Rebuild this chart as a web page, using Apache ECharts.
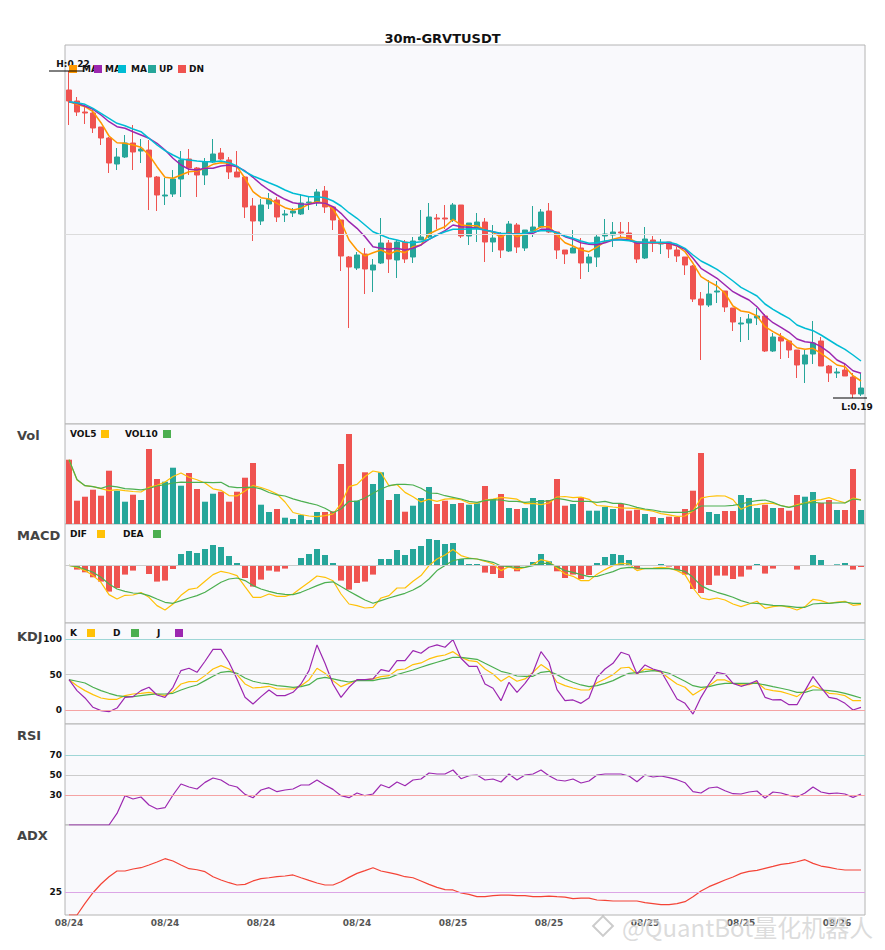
<!DOCTYPE html>
<html>
<head>
<meta charset="utf-8">
<title>30m-GRVTUSDT</title>
<script src="https://cdn.jsdelivr.net/npm/echarts/dist/echarts.min.js"></script>
<style>
  html, body { margin: 0; padding: 0; background: #fff; }
  #main { width: 885px; height: 950px; }
</style>
</head>
<body>
<div id="main"></div>
<script>
// ---- data ----
var opens = [0.2204,0.2193,0.2182,0.2181,0.2167,0.2156,0.2130,0.2137,0.2151,0.2143,
  0.2144,0.2117,0.2098,0.2100,0.2115,0.2135,0.2126,0.2119,0.2132,0.2141,
  0.2134,0.2122,0.2117,0.2088,0.2073,0.2090,0.2094,0.2079,0.2081,0.2080,
  0.2091,0.2092,0.2103,0.2087,0.2074,0.2037,0.2026,0.2040,0.2024,0.2031,
  0.2051,0.2034,0.2052,0.2037,0.2054,0.2057,0.2076,0.2076,0.2074,0.2089,
  0.2058,0.2066,0.2072,0.2052,0.2059,0.2043,0.2069,0.2046,0.2063,0.2067,
  0.2083,0.2062,0.2044,0.2041,0.2046,0.2031,0.2037,0.2058,0.2059,0.2062,
  0.2061,0.2052,0.2036,0.2054,0.2050,0.2052,0.2044,0.2037,0.2028,0.1995,
  0.1989,0.2002,0.2003,0.1986,0.1970,0.1971,0.1976,0.1978,0.1943,0.1957,
  0.1953,0.1944,0.1930,0.1940,0.1953,0.1928,0.1921,0.1924,0.1917,0.1900];
var closes = [0.2193,0.2182,0.2181,0.2166,0.2156,0.2131,0.2137,0.2151,0.2142,0.2145,
  0.2117,0.2099,0.2099,0.2115,0.2134,0.2126,0.2119,0.2132,0.2140,0.2135,
  0.2122,0.2117,0.2087,0.2073,0.2089,0.2095,0.2077,0.2080,0.2083,0.2091,
  0.2092,0.2102,0.2087,0.2074,0.2038,0.2027,0.2039,0.2025,0.2029,0.2051,
  0.2035,0.2052,0.2035,0.2053,0.2057,0.2077,0.2075,0.2075,0.2089,0.2058,
  0.2071,0.2072,0.2052,0.2056,0.2044,0.2070,0.2047,0.2064,0.2067,0.2082,
  0.2062,0.2044,0.2040,0.2046,0.2031,0.2037,0.2057,0.2060,0.2062,0.2061,
  0.2055,0.2035,0.2055,0.2051,0.2051,0.2045,0.2038,0.2029,0.1995,0.1989,
  0.2000,0.2003,0.1987,0.1972,0.1971,0.1975,0.1978,0.1943,0.1957,0.1953,
  0.1944,0.1929,0.1939,0.1951,0.1928,0.1921,0.1922,0.1918,0.1900,0.1906];
var lows = [0.2169,0.2178,0.2170,0.2161,0.2149,0.2121,0.2124,0.2136,0.2124,0.2131,
  0.2084,0.2083,0.2089,0.2097,0.2097,0.2119,0.2097,0.2109,0.2131,0.2134,
  0.2115,0.2117,0.2076,0.2053,0.2069,0.2085,0.2072,0.2072,0.2077,0.2079,
  0.2084,0.2088,0.2081,0.2064,0.2023,0.1966,0.2024,0.2000,0.2002,0.2030,
  0.2021,0.2016,0.2031,0.2031,0.2054,0.2056,0.2065,0.2065,0.2072,0.2056,
  0.2049,0.2052,0.2032,0.2042,0.2036,0.2042,0.2041,0.2043,0.2057,0.2066,
  0.2061,0.2035,0.2030,0.2041,0.2015,0.2022,0.2027,0.2051,0.2047,0.2056,
  0.2055,0.2031,0.2035,0.2042,0.2040,0.2036,0.2032,0.2019,0.1992,0.1934,
  0.1987,0.1991,0.1982,0.1963,0.1952,0.1954,0.1969,0.1942,0.1942,0.1935,
  0.1936,0.1916,0.1911,0.1930,0.1928,0.1912,0.1916,0.1918,0.1896,0.1898];
var highs = [0.2223,0.2197,0.2187,0.2184,0.2167,0.2157,0.2146,0.2159,0.2169,0.2155,
  0.2154,0.2118,0.2116,0.2124,0.2143,0.2145,0.2127,0.2136,0.2155,0.2146,
  0.2137,0.2143,0.2118,0.2096,0.2095,0.2101,0.2097,0.2084,0.2086,0.2100,
  0.2097,0.2105,0.2108,0.2088,0.2074,0.2038,0.2042,0.2046,0.2035,0.2076,
  0.2054,0.2054,0.2054,0.2057,0.2084,0.2091,0.2080,0.2089,0.2091,0.2089,
  0.2071,0.2081,0.2076,0.2069,0.2062,0.2073,0.2071,0.2064,0.2088,0.2085,
  0.2091,0.2062,0.2044,0.2064,0.2056,0.2040,0.2059,0.2075,0.2072,0.2072,
  0.2072,0.2053,0.2067,0.2058,0.2055,0.2052,0.2047,0.2037,0.2029,0.2002,
  0.2014,0.2013,0.2003,0.1986,0.1977,0.1980,0.1986,0.1980,0.1961,0.1961,
  0.1953,0.1944,0.1944,0.1973,0.1957,0.1929,0.1926,0.1930,0.1921,0.1921];

var ma5 = [0.21923,0.21897,0.21873,0.21823,0.21713,0.2158,0.21513,0.21507,0.2149,0.21467,
  0.2139,0.21273,0.21167,0.21157,0.2119,0.21223,0.2123,0.21257,0.21297,0.21313,
  0.21307,0.21273,0.21157,0.21023,0.20963,0.2095,0.20907,0.20863,0.2084,0.20857,
  0.209,0.20923,0.20907,0.2085,0.20723,0.2054,0.2044,0.2038,0.20413,0.2044,
  0.204,0.20433,0.20413,0.20473,0.2049,0.206,0.2064,0.20673,0.20747,0.2069,
  0.20683,0.20683,0.2064,0.20617,0.20567,0.20617,0.20573,0.206,0.20623,0.20673,
  0.20673,0.2059,0.20513,0.2048,0.2044,0.20423,0.20468,0.20523,0.20547,0.20567,
  0.20557,0.20517,0.20513,0.20513,0.20507,0.20507,0.2048,0.20423,0.20307,0.20173,
  0.20123,0.2008,0.20007,0.1988,0.1983,0.19817,0.1978,0.19673,0.19623,0.1958,
  0.1953,0.19463,0.19447,0.19457,0.19407,0.1935,0.1929,0.19273,0.19183,0.1913];
var ma10 = [0.21923,0.21907,0.2188,0.21847,0.2179,0.21723,0.21673,0.21657,0.21623,0.2159,
  0.21557,0.21507,0.2144,0.21357,0.2129,0.21247,0.2124,0.21257,0.21257,0.2128,
  0.2129,0.21273,0.2123,0.21167,0.21097,0.2104,0.2099,0.20947,0.20913,0.209,
  0.20897,0.20913,0.20907,0.20873,0.20807,0.20723,0.20657,0.20573,0.20473,0.20457,
  0.20447,0.20457,0.2044,0.20457,0.2049,0.20547,0.2059,0.20633,0.2069,0.20673,
  0.20667,0.20657,0.2064,0.20623,0.206,0.20607,0.20597,0.206,0.20607,0.20647,
  0.20647,0.20613,0.20573,0.20547,0.20513,0.20497,0.20493,0.20513,0.2054,0.20547,
  0.2054,0.20507,0.20513,0.20513,0.20513,0.20507,0.20483,0.20447,0.20357,0.20257,
  0.20207,0.20157,0.2009,0.20023,0.1998,0.1994,0.19873,0.1978,0.19713,0.19667,
  0.19617,0.1955,0.19523,0.19513,0.19473,0.19417,0.1934,0.193,0.19233,0.19207];
var ma20 = [0.21923,0.21913,0.21897,0.21857,0.21807,0.21757,0.21707,0.21683,0.2165,0.21623,
  0.21557,0.2149,0.21433,0.2139,0.2135,0.2134,0.2133,0.21323,0.21323,0.2133,
  0.21313,0.2128,0.21223,0.2118,0.21147,0.21113,0.2108,0.2104,0.21007,0.2099,
  0.20973,0.20973,0.20963,0.2093,0.2088,0.20813,0.20757,0.2069,0.20623,0.2059,
  0.20557,0.2054,0.20517,0.20513,0.20523,0.20547,0.2059,0.20623,0.20647,0.20647,
  0.2065,0.20653,0.2064,0.20623,0.20607,0.206,0.206,0.20607,0.20623,0.20633,
  0.20633,0.20613,0.2058,0.20557,0.2053,0.20507,0.20512,0.2053,0.2054,0.2054,
  0.20533,0.20523,0.20517,0.20517,0.20517,0.20517,0.20497,0.20457,0.2039,0.2033,
  0.2029,0.20247,0.2019,0.2013,0.20067,0.20023,0.1998,0.199,0.19847,0.198,
  0.19757,0.1969,0.19657,0.19633,0.1959,0.1954,0.1949,0.19447,0.1939,0.1933];

// volume in thousands
var volumes = [64.3,23.3,27.3,34.3,28.3,53.3,33.3,22.3,29.3,24,
  75,45,42.3,56.3,38.3,51,35,22.3,30.3,32.3,
  22.3,32.3,46.3,61,19.3,12,15,6.3,5,9,
  4,12,12,12.7,60,90,23.3,51.7,40,51.7,
  24,30,12.3,18.3,26,37,20,23.3,20,21,
  19.3,20.7,38,25,30,16,15,16,26,24,
  24,45,18.3,20,26.7,13.3,13.3,17,15,20,
  13.3,14.3,10,7,6,7.3,7,15,33.3,71,
  12,10,13,13,29,26,16,19.3,16,16,
  13.3,29,27.3,32,21,24,14,14,55,14];
var vol5 = [64.3,44,38.3,37.3,35.3,33.3,34.3,33.3,32.5,32,
  36.7,38.7,42,47.5,51,46.7,44.3,41,35.2,33.7,
  28.4,28.1,33,38.5,36.5,33.8,30,22,11.5,9.5,
  8,7.3,8.4,10,20.1,37.3,39.6,47.5,53,51.3,
  38.1,39.5,31.6,27.3,22.1,24.7,22.7,24.9,25.3,24.3,
  20.7,20.9,23.8,24.8,26.6,25.9,24.8,20.4,20.6,19.4,
  21,27,27.5,26.3,26.8,24.7,18.5,17.9,17,16.2,
  15.8,15.4,14.2,12.8,10.4,9.1,7.7,8,13,25.8,
  27.5,28.2,28,24.4,14.7,18.3,19.4,20.7,20.6,18.5,
  16.7,19.3,21,23.4,24.3,26.4,23.5,21.2,25.8,24.1];
var vol10 = [64.3,44.5,38.3,37.3,35.6,38.2,37.2,35.4,34.9,34.1,
  35.5,38,39.3,41,41.8,41.7,41.6,41.6,41.3,41.7,
  37.4,36.4,36.6,36.9,35.1,31.5,29.2,28,25.1,22.8,
  20.8,19,15.8,11.2,15,22.7,22.7,26,30.7,35,
  38.3,39.7,39.7,39,35.7,31,30.7,28.3,26.7,25,
  22.7,21.7,23.3,24.3,24,22.7,22.7,21.7,22.3,22.3,
  23.3,25.7,24.3,22.7,22.7,22.7,21.7,22.7,20.7,20.7,
  19,16.7,15,14,12.3,11.7,11.7,11.7,13.3,18,
  18,18,18,18.7,20,22,23.3,24,21.7,18.3,
  16.7,18.3,20.7,21.7,21,21,21,21,25,24];

// MACD in units of 1e-5
var macdHist = [0,-4.3,-7,-12,-16.3,-26.3,-22.7,-9.3,-5.3,-0.7,
  -8.7,-16.3,-15.3,-3.7,11.3,14.3,12.3,16.3,20.3,18.3,
  9.3,2.3,-12.7,-21.3,-14.3,-5.3,-6.3,-3.3,0,7.3,
  11.3,16.3,10.3,2.3,-15.3,-24.3,-17.7,-16.3,-9.3,6.3,
  6.3,15.3,10.3,16.3,19.3,26.3,25.3,21.3,22.3,6.3,
  1.3,1.3,-7.3,-8.7,-12.7,-2,-6,-0.7,3.3,11.3,
  4,-6,-12.7,-9.3,-13.7,-9.7,2.3,8.3,11.3,10.3,
  5.3,-4,0,0,1.3,-1.3,-4.7,-9.3,-23.7,-27.7,
  -19.7,-10.3,-10.3,-13.7,-11.3,-4.3,1.3,-8.3,-3.3,-0.7,
  -0.7,-4.3,0,10.3,5.3,0,1,2.3,-4.3,-1.7];
var difs = [0,-2,-5.3,-10.3,-17,-29.3,-33.7,-30,-29.7,-27.3,
  -32,-40.3,-44.7,-38.7,-30,-24,-22.7,-16,-9.3,-6,
  -7.7,-10.3,-21.3,-32,-32,-28.7,-31,-31,-28.7,-22.7,
  -17,-10.7,-12,-15.5,-28.7,-38.7,-40.3,-42.7,-42,-32.7,
  -30.3,-22.7,-22.7,-16,-10.3,-0.3,6.3,10.3,15.7,9.7,
  7.3,6.3,4,1.3,-5.3,-1.3,-4.3,-2,0.7,5.7,
  3.7,-2.7,-8.7,-11,-15.3,-15.3,-9,-4.3,-0.3,2,
  1.3,-5.3,-3,-2.7,-2,-2.7,-5.3,-9.3,-22.7,-32.7,
  -34.3,-32.7,-34.7,-38.7,-41.3,-38.7,-36,-43,-41.3,-40.3,
  -42,-44.7,-41.3,-34,-35.3,-38,-36.7,-36,-40,-39];
var deas = [0,-1.3,-4,-7,-12,-18.7,-23.7,-26,-27.7,-28,
  -30.3,-33.7,-37,-38,-35.3,-32.7,-30.3,-27,-22,-17,
  -13.7,-12.7,-15.3,-20.3,-23.7,-26,-28,-29,-29.3,-27,
  -23.7,-20.3,-17.3,-16.5,-21.3,-26,-30.3,-34.7,-38,-35.3,
  -32.7,-30.3,-28,-24.7,-20.3,-13.7,-5.3,-0.3,4.7,6.3,
  7,6.3,4.7,3,-0.7,-1.3,-2,-2,-0.3,2,
  2,-1.3,-5.3,-7,-9.3,-11.3,-11,-8.7,-6.3,-3,
  -2,-2.7,-3.3,-3.3,-3.3,-3.3,-4.3,-6,-12,-20.3,
  -24.3,-27,-29.3,-32,-35.3,-37.7,-38,-39,-40,-40.3,
  -41,-42,-42,-38.7,-38,-38,-37.3,-36.7,-38,-38];

var kLine = [42.9,34.4,27.4,21.7,17,15.1,15.1,20.3,22.6,23.6,
  25,22.6,20.3,25.9,36.8,40.1,40.6,48.6,58,62.7,
  58,50,36.8,31.1,32.1,33.5,29.7,29.7,29.7,34.4,
  42.5,59,51.9,41.5,33,37.7,42.5,42.5,43.9,47.2,
  48.6,56.6,58,64.2,66.5,72.2,75.9,77.8,82.5,74.5,
  69.8,68.4,58,50.9,40.6,47.6,40.6,43.9,53.3,64.2,
  56.6,39.2,34.4,31.1,28.3,28.3,38.5,43.9,50,59.4,
  60.4,50.9,58,56.6,53.3,44.8,36.8,32.1,21.2,28.3,
  34.4,42.5,42.5,37.7,35.4,35.8,39.2,29.7,27.4,25.9,
  22.6,18.9,27.4,34.4,29.7,23.6,22.6,20.3,13.2,13.2];
var dLine = [42.9,40.6,38.2,32.1,27.4,23.6,20.3,18.9,18.9,20.3,
  21.7,22.6,22.6,23.6,28.3,32.1,35.4,41.5,47.6,53.3,
  54.7,51.9,45.3,40.6,38.2,36.8,34.4,33.5,32.1,33,
  35.8,43.9,46.2,43.9,41.5,39.6,41.5,41.5,41.5,43.9,
  45.3,50,53.3,56.6,60.4,64.2,67.5,70.8,74.5,74.5,
  73.1,71.7,66,60.4,54.7,51.9,48.1,47.6,47.6,53.3,
  54.7,50,43.9,39.2,35.4,33,34.4,37.7,41.5,47.2,
  51.9,52.8,54.2,55.7,54.7,51.9,46.2,40.6,34.4,32.1,
  33,35.8,37.7,37.7,37.7,37.7,37.7,35.4,33,30.7,
  28.3,25,25,28.3,28.3,27.4,25.9,23.6,20.3,17];
var jLine = [42.9,27.4,17,3.8,-0.9,-2.4,2.8,17.9,18.9,27.4,
  32.1,21.2,17.9,32.1,55.7,59,53.3,68.9,85.8,85.8,
  67.5,43.9,17.9,8.5,18.9,28.3,20.3,20.3,25,36.8,
  55.7,92,66,36.7,17.9,32.1,42.9,42.9,43.9,57.1,
  54.7,69.8,69.8,84,80.2,88.7,92,88.7,99.5,73.1,
  61.8,61.8,36.8,30.7,13.2,39.2,25,37.7,53.3,82.5,
  67.5,28.8,13.2,14.2,9.4,17,46,58,66,81.6,
  77.8,50.9,63.7,58,54.7,35.4,15.6,9.4,-5.7,17.9,
  36.8,53.3,50.9,37.7,33.5,36.8,41.5,17.9,14.2,14.6,
  7.5,7.5,27.4,47.2,32.1,17.9,15.6,9.4,0,3.8];

var rsi = [0,0,0,0,0,0,11.6,29.3,26,28,
  20,16,17.3,30,41,38,36,42.6,47,45,
  40,38,30.6,27.3,35,37.3,33.3,35,36,40,
  40,45,40,35.6,29.3,27.3,32,29.3,31,40.3,
  37.3,43,39.3,45,46,52,51,51,55,46.3,
  49.3,50,45,46,43,51,45,50,51,55,
  49.3,45,44,46,42,44,50,51,51,51,
  49,43.3,50,48,49,47.3,45.3,42.3,33.3,32,
  37,38,34.3,31.3,31,33,34,27,33,32,
  29.6,28,32,38,33,31.3,32,31,27.6,31];
var adx = [0,0,12.6,24.2,33.7,41.6,47.8,47.8,50,51.4,
  54.3,57.6,61.2,58.7,54.3,50.3,49.2,47.1,41.6,38,
  35.1,32.6,33.3,37,39.5,40.5,41.6,42.4,43.5,40.5,
  37.6,34.8,32.6,32.6,36.2,40.9,45.2,48.2,51.4,47.8,
  46,44.1,41.6,40.5,37,33.3,30,27.5,27.2,23.9,
  22.4,19.9,19.9,21,21.7,21.7,21,21,19.9,19.9,
  20.6,19.9,19.5,17.7,18.4,18.4,16.3,15.9,15.2,15.2,
  15.2,15.2,13.4,12.3,11.2,11.2,12.3,14.5,19.9,26.1,
  30.8,34.4,38,41.3,45.2,47.4,48.5,50.7,52.8,55,
  56.1,57.9,60.1,56.1,53.2,51.7,50,48.9,48.9,48.9];

var tickLabels = ['08/24','08/24','08/24','08/24','08/25','08/25','08/25','08/25','08/26'];

// ---- 30m bar times ----
function pad(n) { return n < 10 ? '0' + n : '' + n; }
var times = [];
for (var i = 0; i < closes.length; i++) {
  var m = i * 30;
  times.push('08/' + (24 + Math.floor(m / 1440)) + ' ' + pad(Math.floor((m % 1440) / 60)) + ':' + pad(m % 60));
}

var UP = '#26a69a', DN = '#ef5350';
var FONT = '"DejaVu Sans"';

var ohlc = opens.map(function (o, i) { return [o, closes[i], lows[i], highs[i]]; });
var volData = volumes.map(function (v, i) {
  return { value: v, itemStyle: { color: closes[i] >= opens[i] ? UP : DN } };
});
var histData = macdHist.map(function (v) {
  return { value: v, itemStyle: { color: v >= 0 ? UP : DN } };
});

// panels: [top, height, yMin, yMax]
var panels = [
  [45, 379, 0.1870, 0.2249],
  [424, 100, 0, 100],
  [524, 99, -57.7, 41.3],
  [623, 101, -19.8, 123],
  [724, 101, 0, 101],
  [825, 90, 0, 97.8]
];

var grids = [], xAxes = [], yAxes = [];
panels.forEach(function (p, k) {
  grids.push({ left: 65, right: 20, top: p[0], height: p[1], show: true,
    backgroundColor: '#f9f9fc', borderColor: '#b4b4b4', borderWidth: 1 });
  xAxes.push({ type: 'category', gridIndex: k, data: times, boundaryGap: true,
    axisLine: { show: false }, axisTick: { show: false }, splitLine: { show: false },
    axisLabel: k === 5 ? {
      show: true, interval: 11, margin: 3, color: '#555', fontSize: 9,
      fontWeight: 'bold', fontFamily: 'DejaVu Sans',
      formatter: function (v, idx) { return tickLabels[idx / 12] || ''; }
    } : { show: false } });
  yAxes.push({ type: 'value', gridIndex: k, min: p[2], max: p[3],
    axisLine: { show: false }, axisTick: { show: false },
    axisLabel: { show: false }, splitLine: { show: false } });
});

function refLines(items) {
  return {
    silent: true, symbol: 'none', animation: false, precision: 6,
    data: items.map(function (it) {
      return {
        yAxis: it[0],
        lineStyle: { color: it[1], width: 1, type: 'solid' },
        label: { show: !!it[2], position: 'start', distance: 3, formatter: String(it[0]),
          color: '#111', fontSize: 9, fontWeight: 'bold', fontFamily: 'DejaVu Sans' }
      };
    })
  };
}

function line(name, data, k, color, width) {
  return { name: name, type: 'line', data: data, xAxisIndex: k, yAxisIndex: k,
    symbol: 'none', showSymbol: false, z: 3, animation: false,
    lineStyle: { color: color, width: width || 1.2 }, itemStyle: { color: color } };
}

var series = [
  { name: 'K', type: 'candlestick', data: ohlc, xAxisIndex: 0, yAxisIndex: 0,
    barWidth: 6, animation: false,
    itemStyle: { color: UP, color0: DN, borderColor: UP, borderColor0: DN, borderWidth: 1 } },
  Object.assign(line('MA5', ma5, 0, '#ff9800', 1.5),
    { markLine: refLines([[(panels[0][2] + panels[0][3]) / 2, '#dcdcdc']]) }),
  line('MA10', ma10, 0, '#9c27b0', 1.5),
  line('MA20', ma20, 0, '#00bcd4', 1.5),

  { name: 'Vol', type: 'bar', data: volData, xAxisIndex: 1, yAxisIndex: 1, barWidth: 6, animation: false },
  line('VOL5', vol5, 1, '#ffc107'),
  line('VOL10', vol10, 1, '#4caf50'),

  { name: 'MACD', type: 'bar', data: histData, xAxisIndex: 2, yAxisIndex: 2, barWidth: 6, animation: false,
    markLine: refLines([[0, '#cccccc']]) },
  line('DIF', difs, 2, '#ffc107'),
  line('DEA', deas, 2, '#4caf50'),

  Object.assign(line('K', kLine, 3, '#ffc107'),
    { markLine: refLines([[100, '#9fd6d6', 1], [50, '#cccccc', 1], [0, '#f5a3a3', 1]]) }),
  line('D', dLine, 3, '#4caf50'),
  line('J', jLine, 3, '#9c27b0'),

  Object.assign(line('RSI', rsi, 4, '#9c27b0'),
    { markLine: refLines([[70, '#9fd6d6', 1], [50, '#cccccc', 1], [30, '#f5a3a3', 1]]) }),

  Object.assign(line('ADX', adx, 5, '#f44336'),
    { markLine: refLines([[25, '#dca6e6', 1]]) })
];

// ---- legends, panel names, watermark ----
function txt(x, y, s, extra) {
  var st = { text: s, x: x, y: y, fill: '#111', font: 'bold 9px ' + FONT,
    textAlign: 'left', textVerticalAlign: 'middle' };
  for (var key in extra || {}) st[key] = extra[key];
  return { type: 'text', z: 100, silent: true, style: st };
}
function box(x, y, color) {
  return { type: 'rect', z: 101, silent: true, shape: { x: x, y: y, width: 8, height: 8 }, style: { fill: color } };
}
var nameFont = { font: 'bold 13px ' + FONT, fill: '#444' };
var graphics = [
  txt(82, 69, 'MA'), box(69, 65, '#ff9800'),
  txt(105, 69, 'MA'), box(94, 65, '#9c27b0'),
  txt(131, 69, 'MA'), box(118, 65, '#00bcd4'),
  box(148, 65, UP), txt(159, 69, 'UP'),
  box(178, 65, DN), txt(189, 69, 'DN'),

  txt(70, 434, 'VOL5'), box(101, 430, '#ffc107'),
  txt(125, 434, 'VOL10'), box(163, 430, '#4caf50'),
  txt(70, 534, 'DIF'), box(97, 530, '#ffc107'),
  txt(123, 534, 'DEA'), box(153, 530, '#4caf50'),
  txt(70, 633, 'K'), box(87, 629, '#ffc107'),
  txt(113, 633, 'D'), box(131, 629, '#4caf50'),
  txt(157, 633, 'J'), box(175, 629, '#9c27b0'),

  txt(17, 435, 'Vol', nameFont),
  txt(17, 535, 'MACD', nameFont),
  txt(17, 636, 'KDJ', nameFont),
  txt(17, 735, 'RSI', nameFont),
  txt(17, 835, 'ADX', nameFont),

  { type: 'rect', z: 120, silent: true, x: 603, y: 926, rotation: Math.PI / 4,
    shape: { x: -7, y: -7, width: 14, height: 14 },
    style: { fill: 'none', stroke: 'rgba(170,170,170,0.6)', lineWidth: 2 } },
  txt(622, 926, '@QuantBot量化机器人', { font: '24px "Noto Sans CJK SC"',
    fill: 'rgba(190,190,190,0.55)', stroke: 'rgba(255,255,255,0.6)', lineWidth: 1, z: 120 })
];

var chart = echarts.init(document.getElementById('main'), null, { renderer: 'svg' });
var option = {
  backgroundColor: '#ffffff',
  animation: false,
  title: { text: '30m-GRVTUSDT', left: 'center', top: 27,
    textStyle: { fontSize: 13, fontWeight: 'bold', color: '#111', fontFamily: 'DejaVu Sans' } },
  grid: grids,
  xAxis: xAxes,
  yAxis: yAxes,
  series: series,
  graphic: graphics
};
chart.setOption(option);

// ---- high / low markers placed through the price scale ----
var hi = 0, lo = 0;
for (var j = 1; j < highs.length; j++) {
  if (highs[j] > highs[hi]) hi = j;
  if (lows[j] < lows[lo]) lo = j;
}
var hp = chart.convertToPixel({ gridIndex: 0 }, [hi, highs[hi]]);
var lp = chart.convertToPixel({ gridIndex: 0 }, [lo, lows[lo]]);
var marks = [
  { type: 'line', z: 110, silent: true, shape: { x1: hp[0] - 20, y1: hp[1], x2: hp[0] + 15, y2: hp[1] },
    style: { stroke: '#000', lineWidth: 1 } },
  txt(hp[0] + 4, hp[1] - 3, 'H:' + highs[hi].toFixed(2), { textAlign: 'center', textVerticalAlign: 'bottom' }),
  { type: 'line', z: 110, silent: true, shape: { x1: lp[0] - 20, y1: lp[1], x2: lp[0] + 14, y2: lp[1] },
    style: { stroke: '#000', lineWidth: 1 } },
  txt(lp[0] + 4, lp[1] + 4, 'L:' + lows[lo].toFixed(2), { textAlign: 'center', textVerticalAlign: 'top' })
];
chart.setOption({ graphic: graphics.concat(marks) });
</script>
</body>
</html>
